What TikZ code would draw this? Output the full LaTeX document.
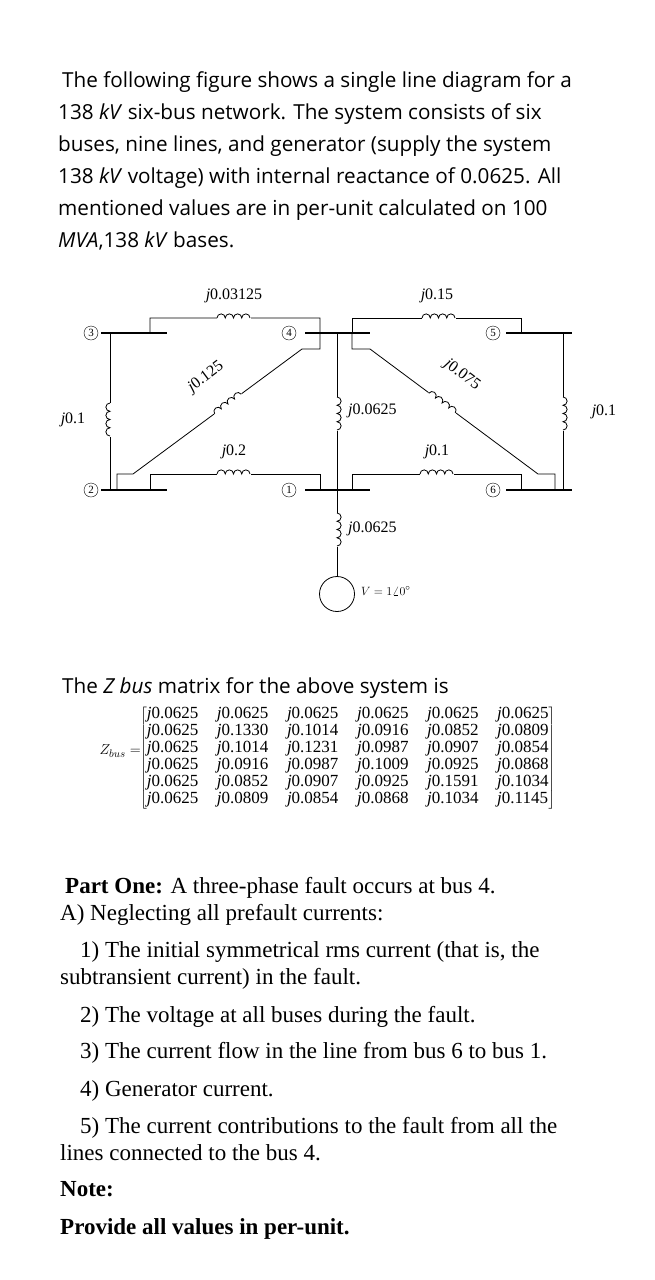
\documentclass[tikz,border=0pt]{standalone}
\usepackage{fontspec}
\setmainfont{Liberation Serif}
\newfontfamily\osans{Open Sans}
\begin{document}
\begin{tikzpicture}[x=1pt,y=1pt,
  wire/.style={line width=0.8pt},
  bar/.style={line width=2.2pt},
  lbl/.style={font=\fontsize{16}{18}\selectfont, inner sep=1pt},
  busn/.style={circle,draw,inner sep=0pt,minimum size=14pt,font=\fontsize{11}{12}\selectfont},
  para/.style={anchor=base west,inner sep=0pt,font=\osans\fontsize{20.7}{24}\selectfont},
  body/.style={anchor=base west,inner sep=0pt,font=\fontsize{23}{26}\selectfont},
  ind/.pic={\fill[white] (-0.5,-1.5) rectangle (33.5,1.5);
    \draw[line width=0.8pt] (0,0) arc[start angle=180,end angle=0,radius=4.125]
      arc[start angle=180,end angle=0,radius=4.125]
      arc[start angle=180,end angle=0,radius=4.125]
      arc[start angle=180,end angle=0,radius=4.125];}]
\useasboundingbox (0,0) rectangle (654,-1280);
\fill[white] (0,0) rectangle (654,-1280);
% paragraph
\node[para] (p1) at (62,-87) {The following figure shows a single line diagram for a};
\node[para] (p2) at (58,-119) {138 \textit{kV} six-bus network. The system consists of six};
\node[para] (p3) at (58,-151) {buses, nine lines, and generator (supply the system};
\node[para] (p4) at (58,-183) {138 \textit{kV} voltage) with internal reactance of 0.0625. All};
\node[para] (p5) at (58,-215) {mentioned values are in per-unit calculated on 100};
\node[para] (p6) at (58,-247) {\textit{MVA},138 \textit{kV} bases.};
% buses
\coordinate (b3l) at (101,-333); \coordinate (b3r) at (167,-333);
\coordinate (b4l) at (305,-333); \coordinate (b4r) at (370,-333);
\coordinate (b5l) at (506,-333); \coordinate (b5r) at (572,-333);
\coordinate (b2l) at (101,-490); \coordinate (b2r) at (167,-490);
\coordinate (b1l) at (305,-490); \coordinate (b1r) at (370,-490);
\coordinate (b6l) at (506,-490); \coordinate (b6r) at (572,-490);
% wires
\draw[wire] (150,-333) |- (320,-318) -- (320,-349) -- (302,-349) -- (133,-474) -- (117,-474) -- (117,-490);
\draw[wire] (110,-333) -- (110,-490);
\draw[wire] (150,-490) |- (320,-474) -- (320,-490);
\draw[wire] (337,-333) -- (337,-577);
\draw[wire] (352,-333) |- (521,-318) -- (521,-333);
\draw[wire] (352,-333) -- (352,-349) -- (370,-349) -- (538,-474) -- (555,-474) -- (555,-490);
\draw[wire] (563,-333) -- (563,-490);
\draw[wire] (352,-490) |- (521,-474) -- (521,-490);
\node[circle,draw,line width=0.8pt,minimum size=35pt,inner sep=0pt] (gen) at (337,-594) {};
% bars
\foreach \b in {3,4,5,2,1,6} \draw[bar] (b\b l) -- (b\b r);
\node[busn] (n3) at (91,-333) {3};
\node[busn] (n4) at (289,-333) {4};
\node[busn] (n5) at (493,-333) {5};
\node[busn] (n2) at (91,-490) {2};
\node[busn] (n1) at (289,-490) {1};
\node[busn] (n6) at (493,-490) {6};
% inductors
\pic at (217,-318) {ind};
\pic at (217,-474) {ind};
\pic at (422,-318) {ind};
\pic at (420,-474) {ind};
\pic[rotate=90] at (110,-436) {ind};
\pic[rotate=-90] at (337,-397) {ind};
\pic[rotate=-90] at (563,-397) {ind};
\pic[rotate=-90] at (337,-513) {ind};
\pic[rotate=36.5] at (214.7,-413.8) {ind};
\pic[rotate=-36.6] at (428.8,-393.2) {ind};
% labels
\node[lbl] (l34) at (234,-296) {\textit{j}0.03125};
\node[lbl] (l45) at (437,-296) {\textit{j}0.15};
\node[lbl] (l23) at (73,-420) {\textit{j}0.1};
\node[lbl] (l56) at (604,-412) {\textit{j}0.1};
\node[lbl] (l12) at (234,-452) {\textit{j}0.2};
\node[lbl] (l16) at (437,-452) {\textit{j}0.1};
\node[lbl,anchor=west] (l41) at (347,-411) {\textit{j}0.0625};
\node[lbl,anchor=west] (lg) at (347,-529) {\textit{j}0.0625};
\node[lbl,rotate=37] (l24) at (206,-377) {\textit{j}0.125};
\node[lbl,rotate=-37] (l46) at (462,-375) {\textit{j}0.075};
\node[lbl,anchor=west,font=\fontsize{13}{14}\selectfont] (lv) at (360,-591) {$V=1\angle 0^\circ$};
% Zbus
\node[para] (zt) at (62,-693) {The \textit{Z bus} matrix for the above system is};
\node[anchor=east,inner sep=1pt,font=\fontsize{15}{16}\selectfont] (zl) at (142,-751) {$Z_{bus}=$};
\node[anchor=west,inner sep=0pt,font=\fontsize{17}{17}\selectfont] (zm) at (140,-758) {%
$\left[\vcenter{\hbox{\setlength{\tabcolsep}{9.3pt}\renewcommand\arraystretch{1}%
\begin{tabular}{@{}llllll@{}}
\textit{j}0.0625 & \textit{j}0.0625 & \textit{j}0.0625 & \textit{j}0.0625 & \textit{j}0.0625 & \textit{j}0.0625\\
\textit{j}0.0625 & \textit{j}0.1330 & \textit{j}0.1014 & \textit{j}0.0916 & \textit{j}0.0852 & \textit{j}0.0809\\
\textit{j}0.0625 & \textit{j}0.1014 & \textit{j}0.1231 & \textit{j}0.0987 & \textit{j}0.0907 & \textit{j}0.0854\\
\textit{j}0.0625 & \textit{j}0.0916 & \textit{j}0.0987 & \textit{j}0.1009 & \textit{j}0.0925 & \textit{j}0.0868\\
\textit{j}0.0625 & \textit{j}0.0852 & \textit{j}0.0907 & \textit{j}0.0925 & \textit{j}0.1591 & \textit{j}0.1034\\
\textit{j}0.0625 & \textit{j}0.0809 & \textit{j}0.0854 & \textit{j}0.0868 & \textit{j}0.1034 & \textit{j}0.1145
\end{tabular}}}\right]$};
% bottom text
\node[body] (t1) at (65,-893) {\textbf{Part One:} A three-phase fault occurs at bus 4.};
\node[body] (t2) at (60,-920) {A) Neglecting all prefault currents:};
\node[body] (t3) at (80,-957) {1) The initial symmetrical rms current (that is, the};
\node[body] (t4) at (60,-984) {subtransient current) in the fault.};
\node[body] (t5) at (80,-1022) {2) The voltage at all buses during the fault.};
\node[body] (t6) at (80,-1058) {3) The current flow in the line from bus 6 to bus 1.};
\node[body] (t7) at (80,-1096) {4) Generator current.};
\node[body] (t8) at (80,-1133) {5) The current contributions to the fault from all the};
\node[body] (t9) at (60,-1160) {lines connected to the bus 4.};
\node[body] (t10) at (60,-1196) {\textbf{Note:}};
\node[body] (t11) at (60,-1234) {\textbf{Provide all values in per-unit.}};
\end{tikzpicture}
\end{document}
